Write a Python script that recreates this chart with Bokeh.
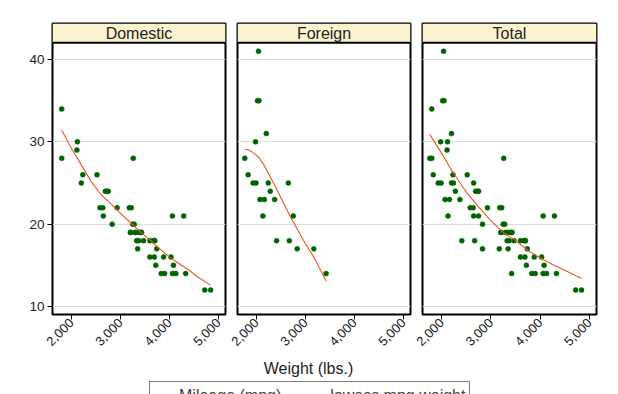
import math
from bokeh.plotting import figure
from bokeh.layouts import row, column
from bokeh.models import (Range1d, FixedTicker, NumeralTickFormatter, BoxAnnotation,
                          Span, Label, Legend, LegendItem)
from bokeh.embed import file_html
from bokeh.resources import INLINE

# ---- data (auto dataset: weight vs mileage) ----
dom_weight = [2930, 3350, 2640, 3250, 4080, 3670, 2230, 3280, 3880, 3400, 4330, 3900, 4290,
              2110, 3690, 3180, 3220, 2750, 3430, 2120, 3600, 3600, 3740, 1800, 2650, 4840,
              4720, 3830, 2580, 4060, 3720, 3370, 4130, 2830, 4060, 3310, 3300, 3690, 3370,
              2730, 4030, 3260, 1800, 2200, 2520, 3330, 3700, 3470, 3210, 3200, 3420, 2690]
dom_mpg = [22, 17, 22, 20, 15, 18, 26, 20, 16, 19, 14, 14, 21,
           29, 16, 22, 22, 24, 19, 30, 18, 16, 17, 28, 21, 12,
           12, 14, 22, 14, 15, 18, 14, 20, 21, 19, 19, 18, 19,
           24, 16, 28, 34, 25, 26, 18, 18, 18, 19, 19, 19, 24]
for_weight = [2830, 2070, 2650, 2370, 2020, 2280, 2750, 2130, 2240, 1760, 1980,
              3420, 1830, 2050, 2410, 2200, 2670, 2160, 2040, 1930, 1990, 3170]
for_mpg = [17, 23, 25, 23, 35, 24, 21, 21, 25, 28, 30,
           14, 26, 35, 18, 31, 18, 23, 41, 25, 25, 17]
tot_weight = dom_weight + for_weight
tot_mpg = dom_mpg + for_mpg

# lowess curves
dom_fit_x = [1800, 2000, 2200, 2400, 2600, 2800, 3000, 3200, 3400, 3600, 3800, 4000, 4200, 4400, 4600, 4840]
dom_fit_y = [31.4, 29.2, 27.2, 25.2, 23.6, 22.5, 21.3, 20.2, 19.1, 18.1, 17.0, 16.0, 15.2, 14.4, 13.5, 12.6]
for_fit_x = [1760, 1850, 1950, 2050, 2150, 2250, 2400, 2550, 2700, 2850, 3000, 3170, 3420]
for_fit_y = [29.1, 29.0, 28.6, 28.1, 27.2, 26.1, 24.4, 22.6, 20.8, 19.2, 17.6, 16.0, 13.1]
tot_fit_x = [1760, 2000, 2250, 2500, 2750, 3000, 3250, 3500, 3750, 4000, 4250, 4500, 4840]
tot_fit_y = [30.9, 28.6, 26.1, 23.9, 22.1, 20.4, 19.0, 18.0, 16.8, 15.9, 15.1, 14.4, 13.4]

panel_titles = ["Domestic", "Foreign", "Total"]
x_ticks = [2000, 3000, 4000, 5000]
y_ticks = [10, 20, 30, 40]
x_title = "Weight (lbs.)"
legend_labels = ["Mileage (mpg)", "lowess mpg weight"]

FONT = "Liberation Sans"
GREEN = "#006400"
ORANGE = "#EE5522"
HEADER = "#FBF3D0"
TXT = "#222222"
X0, X1 = 1612, 5143
Y0, Y1 = 9.03, 44.37
HDR = 42.03


def panel(title, xs, ys, fx, fy, left_axis, bl, br, fw):
    p = figure(frame_width=fw, frame_height=291, min_border_left=bl, min_border_right=br,
               min_border_top=23, min_border_bottom=40,
               x_range=Range1d(X0, X1), y_range=Range1d(Y0, Y1),
               output_backend="svg", toolbar_location=None,
               y_axis_location="left" if left_axis else None)
    p.outline_line_color = "black"
    p.outline_line_width = 2
    p.background_fill_color = "white"
    p.border_fill_color = "white"
    p.xgrid.visible = False
    p.ygrid.ticker = FixedTicker(ticks=y_ticks)
    p.ygrid.grid_line_color = "#dcdcdc"
    p.ygrid.grid_line_width = 1

    xa = p.xaxis[0]
    xa.ticker = FixedTicker(ticks=x_ticks)
    xa.formatter = NumeralTickFormatter(format="0,0")
    xa.major_label_orientation = math.pi / 4
    xa.major_tick_out = 5
    xa.major_tick_in = 0
    xa.minor_tick_out = 0
    xa.minor_tick_in = 0
    xa.axis_line_color = None
    xa.major_tick_line_color = "black"
    xa.major_label_standoff = 1
    xa.major_label_text_font = FONT
    xa.major_label_text_font_size = "13px"
    xa.major_label_text_color = TXT

    if left_axis:
        ya = p.yaxis[0]
        ya.ticker = FixedTicker(ticks=y_ticks)
        ya.major_tick_out = 5
        ya.major_tick_in = 0
        ya.minor_tick_out = 0
        ya.minor_tick_in = 0
        ya.axis_line_color = None
        ya.major_tick_line_color = "black"
        ya.major_label_standoff = 3
        ya.major_label_text_font = FONT
        ya.major_label_text_font_size = "13.5px"
        ya.major_label_text_color = TXT

    # header strip
    p.add_layout(BoxAnnotation(bottom=HDR, fill_color=HEADER, fill_alpha=1.0, line_color=None))
    p.add_layout(Span(location=HDR, dimension="width", line_color="black", line_width=2))
    p.add_layout(Label(x=(X0 + X1) / 2, y=43.2, text=title, text_align="center",
                       text_baseline="middle", text_font=FONT, text_font_size="16px",
                       text_color=TXT))

    p.scatter(xs, ys, size=5, color=GREEN, line_color=GREEN, line_width=0.5)
    p.line(fx, fy, color=ORANGE, line_width=1.1)
    return p


p1 = panel(panel_titles[0], dom_weight, dom_mpg, dom_fit_x, dom_fit_y, True, 52, 2, 173)
p2 = panel(panel_titles[1], for_weight, for_mpg, for_fit_x, for_fit_y, False, 10, 2, 173)
p3 = panel(panel_titles[2], tot_weight, tot_mpg, tot_fit_x, tot_fit_y, False, 10, 14, 174)

# bottom strip: axis title + legend
pb = figure(width=610, height=40, x_range=Range1d(0, 610), y_range=Range1d(0, 40),
            min_border=0, output_backend="svg", toolbar_location=None,
            x_axis_location=None, y_axis_location=None)
pb.outline_line_color = None
pb.xgrid.visible = False
pb.ygrid.visible = False
pb.add_layout(Label(x=308, y=26, text=x_title, text_align="center", text_baseline="middle",
                    text_font=FONT, text_font_size="16px", text_color=TXT))
r1 = pb.scatter([], [], size=5, color=GREEN)
r2 = pb.line([], [], color=ORANGE, line_width=1)
leg = Legend(items=[LegendItem(label=legend_labels[0], renderers=[r1]),
                    LegendItem(label=legend_labels[1], renderers=[r2])],
             orientation="horizontal", location=(149, -17))
leg.border_line_color = "black"
leg.border_line_width = 1.5
leg.padding = 4
leg.glyph_height = 20
leg.label_height = 20
leg.label_text_font = FONT
leg.label_text_font_size = "16px"
leg.spacing = 24
pb.add_layout(leg, "center")

layout = column(row(p1, p2, p3), pb)
open("out.html", "w").write(file_html(layout, INLINE))
